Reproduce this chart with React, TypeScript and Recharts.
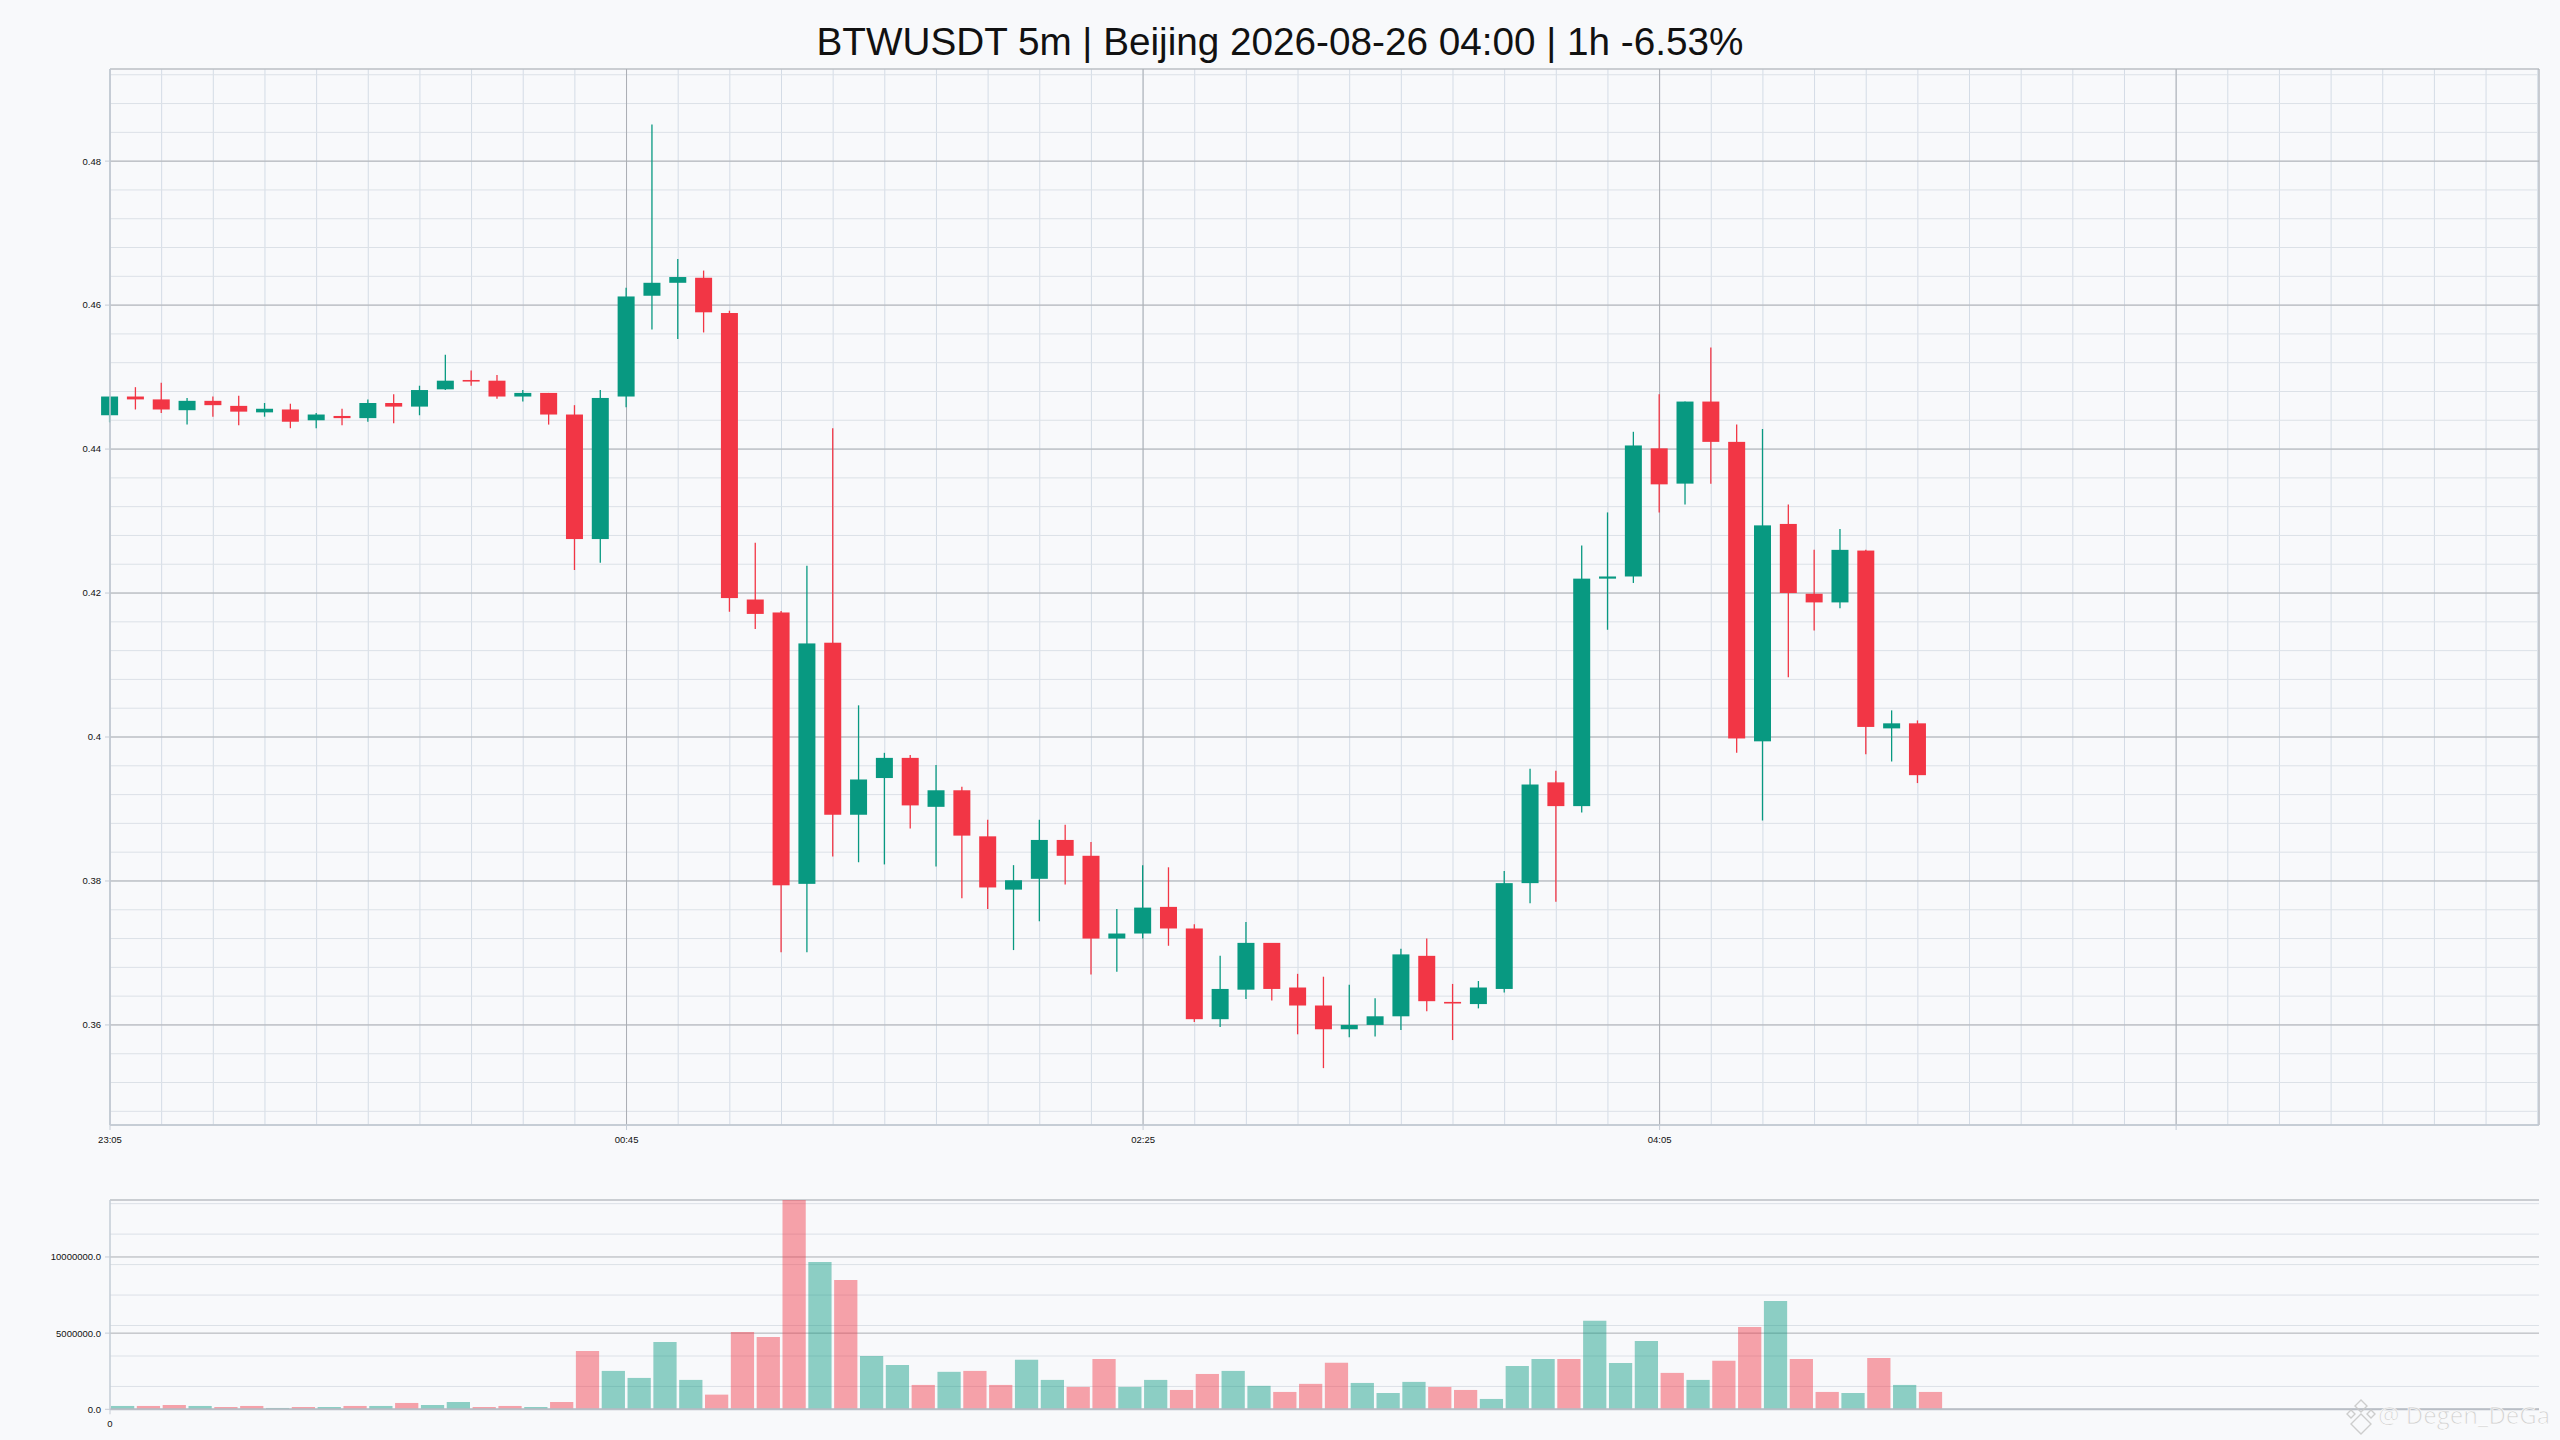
import { Bar, CartesianGrid, Cell, ComposedChart, XAxis, YAxis } from 'recharts'

const GREEN = '#089981'
const RED = '#f23645'

// 5m candles from 23:05 to 04:55
const opens = [
  0.4447, 0.4473, 0.4469, 0.4454, 0.4467, 0.446, 0.4451, 0.4455, 0.444, 0.4446,
  0.4443, 0.4464, 0.4459, 0.4483, 0.4496, 0.4495, 0.4473, 0.4478, 0.4448, 0.4275,
  0.4473, 0.4613, 0.4631, 0.4638, 0.4589, 0.4191, 0.4173, 0.3796, 0.4131, 0.3892,
  0.3943, 0.3971, 0.3903, 0.3926, 0.3862, 0.3788, 0.3803, 0.3857, 0.3835, 0.372,
  0.3727, 0.3764, 0.3734, 0.3608, 0.3649, 0.3714, 0.3652, 0.3627, 0.3594, 0.36,
  0.3612, 0.3696, 0.3632, 0.3629, 0.365, 0.3797, 0.3937, 0.3904, 0.422, 0.4223,
  0.4401, 0.4352, 0.4466, 0.441, 0.3994, 0.4296, 0.4199, 0.4187, 0.4259, 0.4012,
  0.4019,
]
const highs = [
  0.4473, 0.4486, 0.4492, 0.4471, 0.4473, 0.4474, 0.4464, 0.4463, 0.445, 0.4456,
  0.4469, 0.4476, 0.4488, 0.4531, 0.4509, 0.4503, 0.4482, 0.4478, 0.4461, 0.4482,
  0.4624, 0.4851, 0.4664, 0.4648, 0.4592, 0.427, 0.4175, 0.4238, 0.4429, 0.4044,
  0.3978, 0.3975, 0.3961, 0.3931, 0.3885, 0.3822, 0.3885, 0.3878, 0.3854, 0.3761,
  0.3822, 0.3819, 0.374, 0.3696, 0.3743, 0.3714, 0.3671, 0.3667, 0.3656, 0.3637,
  0.3706, 0.372, 0.3657, 0.3661, 0.3814, 0.3956, 0.3953, 0.4266, 0.4312, 0.4424,
  0.4476, 0.4466, 0.4541, 0.4434, 0.4428, 0.4323, 0.426, 0.4289, 0.426, 0.4037,
  0.4023,
]
const lows = [
  0.4437, 0.4455, 0.445, 0.4434, 0.4445, 0.4433, 0.4445, 0.4429, 0.4429, 0.4433,
  0.4438, 0.4436, 0.4447, 0.4482, 0.4488, 0.447, 0.4466, 0.4434, 0.4232, 0.4242,
  0.4458, 0.4566, 0.4553, 0.4562, 0.4174, 0.415, 0.3701, 0.3701, 0.3834, 0.3826,
  0.3823, 0.3873, 0.382, 0.3776, 0.3761, 0.3704, 0.3744, 0.3795, 0.367, 0.3674,
  0.372, 0.371, 0.3604, 0.3597, 0.3636, 0.3634, 0.3587, 0.354, 0.3583, 0.3584,
  0.3593, 0.3619, 0.3579, 0.3623, 0.3645, 0.3769, 0.3771, 0.3895, 0.4149, 0.4214,
  0.4312, 0.4323, 0.4352, 0.3978, 0.3884, 0.4083, 0.4148, 0.4179, 0.3976, 0.3966,
  0.3936,
]
const closes = [
  0.4473, 0.4469, 0.4455, 0.4467, 0.4461, 0.4452, 0.4456, 0.4438, 0.4448, 0.4443,
  0.4464, 0.4459, 0.4482, 0.4495, 0.4494, 0.4473, 0.4478, 0.4448, 0.4275, 0.4471,
  0.4612, 0.4631, 0.4639, 0.459, 0.4193, 0.4171, 0.3794, 0.413, 0.3892, 0.3941,
  0.3971, 0.3905, 0.3926, 0.3863, 0.3791, 0.3801, 0.3857, 0.3835, 0.372, 0.3727,
  0.3763, 0.3734, 0.3608, 0.365, 0.3714, 0.365, 0.3627, 0.3594, 0.36, 0.3612,
  0.3698, 0.3633, 0.363, 0.3652, 0.3797, 0.3934, 0.3904, 0.422, 0.4223, 0.4405,
  0.4351, 0.4466, 0.441, 0.3998, 0.4294, 0.42, 0.4187, 0.426, 0.4014, 0.4019,
  0.3947,
]
const volumes = [
  219000, 219000, 284000, 219000, 153000, 219000, 88000, 153000, 153000, 219000,
  219000, 416000, 284000, 481000, 153000, 219000, 153000, 481000, 3830000, 2520000,
  2060000, 4420000, 1930000, 963000, 5080000, 4750000, 13740000, 9670000, 8490000, 3500000,
  2910000, 1600000, 2460000, 2520000, 1600000, 3250000, 1930000, 1470000, 3310000, 1470000,
  1930000, 1270000, 2320000, 2520000, 1540000, 1140000, 1670000, 3050000, 1730000, 1070000,
  1800000, 1470000, 1270000, 680000, 2850000, 3310000, 3310000, 5810000, 3040000, 4490000,
  2390000, 1930000, 3180000, 5410000, 7110000, 3310000, 1140000, 1070000, 3370000, 1600000,
  1140000,
]

const xTicks = [0, 20, 40, 60, 80]
const xTickLabels = ['23:05', '00:45', '02:25', '04:05', '']
const priceTicks = [0.36, 0.38, 0.4, 0.42, 0.44, 0.46, 0.48]
const volumeTicks = [0, 5000000, 10000000]

const X_DOMAIN: [number, number] = [0, 94.05]
const PRICE_DOMAIN: [number, number] = [0.3461, 0.4928]
const VOLUME_DOMAIN: [number, number] = [0, 13740000]

const candles = opens.map((open, i) => ({
  idx: i,
  open,
  high: highs[i],
  low: lows[i],
  close: closes[i],
}))
const volumeData = volumes.map((volume, i) => ({
  slot: i + 0.5,
  volume,
  up: closes[i] >= opens[i],
}))

// minor grid steps
const minorX: number[] = []
for (let i = 0; i <= 94; i += 2) minorX.push(i)
const minorPrice: number[] = []
for (let k = 174; k <= 246; k++) minorPrice.push(Number((k * 0.002).toFixed(3)))
const minorVolume: number[] = []
for (let k = 1; k <= 27; k++) minorVolume.push(k * 500000)

const FONT = '"Liberation Sans", Arial, sans-serif'
const AXIS = '#c5ccd6'
const MAJOR = '#abaeb3'
const MINOR_H = '#dce1e7'
const MINOR_V = '#d4dce6'
const tickStyle = { fontSize: 9.5, fill: '#111', fontFamily: FONT }

function Candle(props: any) {
  const { x, y, width, height, payload } = props
  if (!payload) return null
  const { open, high, low, close } = payload
  const color = close >= open ? GREEN : RED
  const top = Math.min(y, y + height)
  const h = Math.abs(height)
  const span = high - low || 1
  const py = (v: number) => top + ((high - v) / span) * h
  const cx = x + width / 2
  const bTop = py(Math.max(open, close))
  const bBot = py(Math.min(open, close))
  return (
    <g>
      <line x1={cx} x2={cx} y1={top} y2={top + h} stroke={color} strokeWidth={1.3} />
      <rect x={x} y={bTop} width={width} height={Math.max(bBot - bTop, 1.6)} fill={color} />
    </g>
  )
}

// blank axis that only feeds a grid with its ticks
function minorYAxis(domain: [number, number], ticks: number[]) {
  return (
    <YAxis
      yAxisId="minor"
      type="number"
      domain={domain}
      ticks={ticks}
      interval={0}
      width={0}
      tick={false}
      axisLine={false}
      tickLine={false}
    />
  )
}

export default function App() {
  return (
    <div style={{ position: 'relative', width: 2560, height: 1440, background: '#f8f9fb', overflow: 'hidden' }}>
      <style>{'body{margin:0;background:#f8f9fb}'}</style>

      <div style={{ position: 'absolute', left: 0, top: 0 }}>
        <ComposedChart width={2560} height={1160} data={candles} margin={{ top: 69, right: 21, left: 0, bottom: 5 }}>
          <XAxis xAxisId="minor" dataKey="idx" type="number" domain={X_DOMAIN} ticks={minorX} interval={0} hide />
          {minorYAxis(PRICE_DOMAIN, minorPrice)}
          <CartesianGrid xAxisId="minor" yAxisId="minor" horizontal={false} stroke={MINOR_V} strokeWidth={1} />
          <CartesianGrid yAxisId="minor" vertical={false} stroke={MINOR_H} strokeWidth={1} />
          <CartesianGrid vertical={false} horizontalValues={minorPrice} stroke={MINOR_H} strokeWidth={1} />
          <CartesianGrid stroke={MAJOR} strokeWidth={1} />
          <XAxis
            dataKey="idx"
            type="number"
            domain={X_DOMAIN}
            ticks={xTicks}
            tickFormatter={(v: number) => xTickLabels[xTicks.indexOf(v)] ?? ''}
            height={30}
            tickSize={5}
            tickMargin={6}
            tick={tickStyle}
            stroke={AXIS}
            axisLine={{ stroke: AXIS, strokeWidth: 1.5 }}
            tickLine={{ stroke: AXIS }}
          />
          <YAxis
            type="number"
            domain={PRICE_DOMAIN}
            ticks={priceTicks}
            tickFormatter={(v: number) => String(Number(v.toFixed(2)))}
            width={110}
            tickSize={5}
            tickMargin={4}
            tick={tickStyle}
            axisLine={{ stroke: AXIS, strokeWidth: 1.5 }}
            tickLine={{ stroke: AXIS }}
          />
          <Bar
            dataKey={(d: any) => [d.low, d.high]}
            barSize={17}
            shape={<Candle />}
            isAnimationActive={false}
          />
        </ComposedChart>
      </div>

      <div style={{ position: 'absolute', left: 0, top: 1180 }}>
        <ComposedChart width={2560} height={260} data={volumeData} margin={{ top: 20, right: 21, left: 0, bottom: 5.7 }}>
          {minorYAxis(VOLUME_DOMAIN, minorVolume)}
          <CartesianGrid yAxisId="minor" vertical={false} stroke={MINOR_H} strokeWidth={1} />
          <CartesianGrid vertical={false} horizontalValues={minorVolume} stroke={MINOR_H} strokeWidth={1} />
          <CartesianGrid vertical={false} stroke={MAJOR} strokeWidth={1} />
          <XAxis
            dataKey="slot"
            type="number"
            domain={X_DOMAIN}
            ticks={[0]}
            tickFormatter={() => '0'}
            height={25}
            tickSize={5}
            tickMargin={6}
            tick={tickStyle}
            axisLine={{ stroke: '#b9bec6', strokeWidth: 2 }}
            tickLine={{ stroke: AXIS }}
          />
          <YAxis
            type="number"
            domain={VOLUME_DOMAIN}
            ticks={volumeTicks}
            tickFormatter={(v: number) => v.toFixed(1)}
            width={110}
            tickSize={5}
            tickMargin={4}
            tick={tickStyle}
            axisLine={{ stroke: AXIS, strokeWidth: 1.5 }}
            tickLine={{ stroke: AXIS }}
          />
          <Bar dataKey="volume" barSize={25.83} isAnimationActive={false}>
            {volumeData.map((d) => (
              <Cell key={d.slot} fill={d.up ? GREEN : RED} fillOpacity={0.45} />
            ))}
          </Bar>
        </ComposedChart>
      </div>

      <svg width={2560} height={1440} style={{ position: 'absolute', left: 0, top: 0, pointerEvents: 'none' }}>
        <text x={1280} y={55} textAnchor="middle" fontFamily={FONT} fontSize={38.7} fill="#111">
          BTWUSDT 5m | Beijing 2026-08-26 04:00 | 1h -6.53%
        </text>
        <g stroke="#c9c9c9" strokeWidth={1.4} fill="none" opacity={0.9}>
          <path d="M2361 1400 l6 6 l-6 6 l-6 -6 z" />
          <path d="M2351 1410 l4 4 l-4 4 l-4 -4 z" />
          <path d="M2371 1410 l4 4 l-4 4 l-4 -4 z" />
          <path d="M2361 1414 l10 10 l-10 10 l-10 -10 z" />
        </g>
        <text x={2378} y={1424} fontFamily={'"Open Sans", sans-serif'} fontSize={24} fill="#d2d2d2" stroke="#ffffff" strokeWidth={0.6}>
          @ Degen_DeGa
        </text>
      </svg>
    </div>
  )
}
